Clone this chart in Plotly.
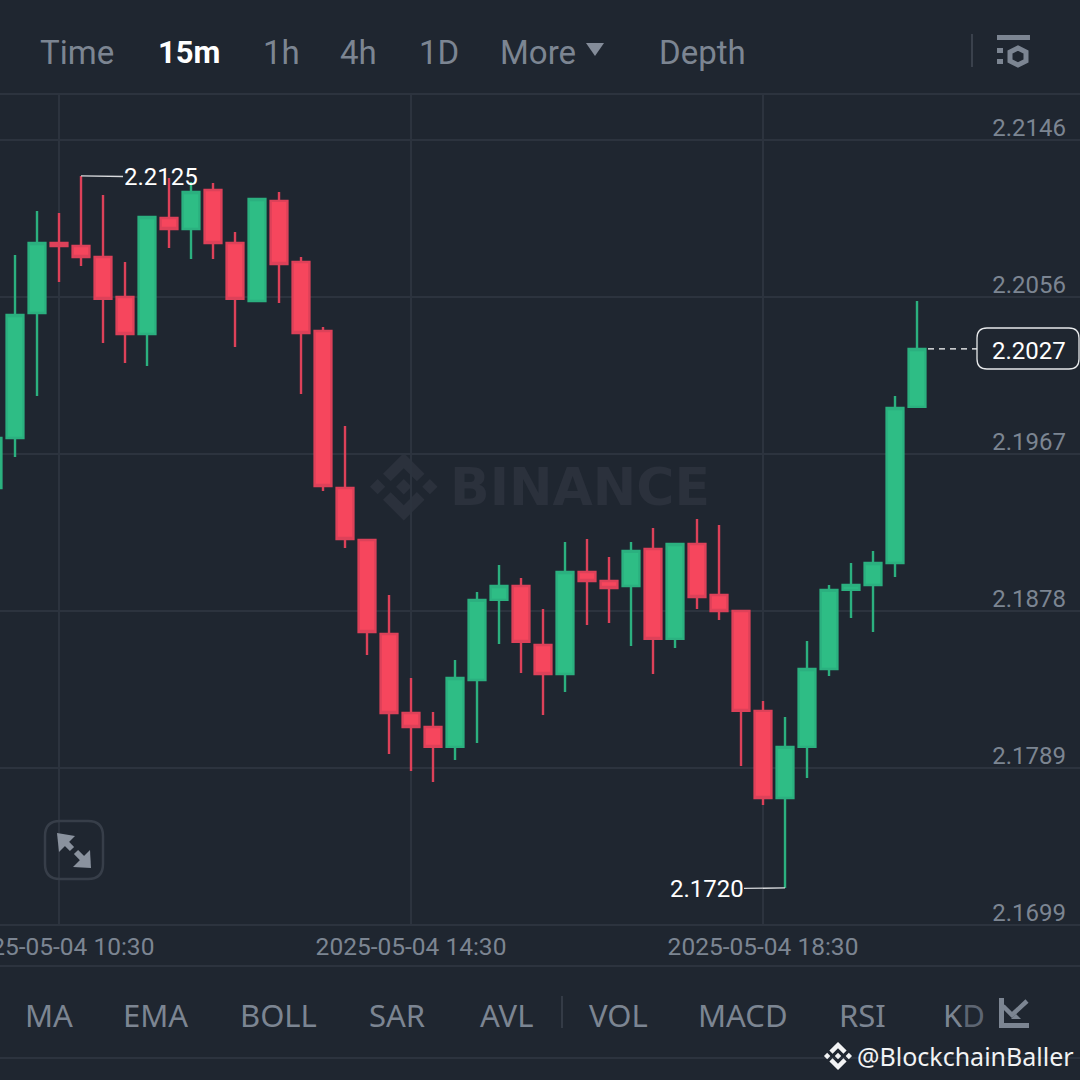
import plotly.graph_objects as go

BG = "#1f2630"
GRID = "#2c333e"
MUTED = "#7c8592"
GREEN_BODY, GREEN_LINE = "#2ebd85", "#2bb07f"
RED_BODY, RED_LINE = "#f6465d", "#dd4159"

times = ["09:45","10:00","10:15","10:30","10:45","11:00","11:15","11:30","11:45","12:00","12:15",
         "12:30","12:45","13:00","13:15","13:30","13:45","14:00","14:15","14:30","14:45","15:00",
         "15:15","15:30","15:45","16:00","16:15","16:30","16:45","17:00","17:15","17:30","17:45",
         "18:00","18:15","18:30","18:45","19:00","19:15","19:30","19:45","20:00","20:15"]
opens = [2.19478,2.19763,2.20475,2.20873,2.20856,2.20794,2.20566,2.20355,2.21016,2.20953,2.21175,
         2.20873,2.20543,2.21113,2.20765,2.20372,2.19478,2.19182,2.18647,2.18197,2.18117,2.18004,
         2.18385,2.18841,2.18920,2.18584,2.18419,2.19000,2.18949,2.18920,2.19131,2.18619,2.19159,
         2.18869,2.18778,2.18209,2.17713,2.18004,2.18448,2.18898,2.18926,2.19051,2.19940]
highs = [2.19763,2.20805,2.21056,2.21044,2.21255,2.21147,2.20765,2.21021,2.21243,2.21221,2.21215,
         2.20936,2.21124,2.21164,2.20794,2.20395,2.19831,2.19188,2.18869,2.18396,2.18203,2.18499,
         2.18886,2.19040,2.18966,2.18789,2.19171,2.19188,2.19085,2.19171,2.19251,2.19159,2.19302,
         2.19268,2.18778,2.18266,2.18174,2.18607,2.18926,2.19051,2.19120,2.20002,2.20543]
lows = [2.19478,2.19655,2.20002,2.20651,2.20742,2.20304,2.20190,2.20173,2.20845,2.20782,2.20782,
        2.20281,2.20543,2.20532,2.20014,2.19461,2.19137,2.18527,2.17964,2.17867,2.17804,2.17930,
        2.18026,2.18590,2.18425,2.18186,2.18317,2.18698,2.18710,2.18579,2.18419,2.18567,2.18789,
        2.18727,2.17895,2.17673,2.17201,2.17827,2.18408,2.18738,2.18658,2.18972,2.19940]
closes = [2.19763,2.20463,2.20873,2.20856,2.20794,2.20555,2.20355,2.21021,2.20953,2.21164,2.20873,
          2.20555,2.21124,2.20754,2.20361,2.19490,2.19188,2.18658,2.18197,2.18117,2.18004,2.18396,
          2.18841,2.18920,2.18602,2.18419,2.19000,2.18949,2.18909,2.19120,2.18619,2.19159,2.18858,
          2.18778,2.18209,2.17713,2.18004,2.18448,2.18898,2.18926,2.19051,2.19934,2.20270]

price_ticks = [2.2146, 2.20566, 2.19672, 2.18778, 2.17884, 2.1699]
price_labels = ["2.2146", "2.2056", "2.1967", "2.1878", "2.1789", "2.1699"]
time_ticks = ["10:30", "14:30", "18:30"]
period_labels = ["Time", "15m", "1h", "4h", "1D", "More", "Depth"]
indicator_labels = ["MA", "EMA", "BOLL", "SAR", "AVL", "VOL", "MACD", "RSI",
                    "K<span style='color:#5d6572'>D</span>"]
high_label, low_label, last_label = "2.2125", "2.1720", "2.2027"
high_value, low_value, last_value = 2.21255, 2.17201, 2.2027
high_time, low_time = "10:45", "18:45"
DAY = "2025-05-04 "


def px(x):
    return x / 1080


def py(y):
    return 1 - y / 1080


def path(points, close=True):
    s = "M" + " L".join(f"{px(x):.5f},{py(y):.5f}" for x, y in points)
    return s + (" Z" if close else "")


def round_rect(x0, y0, x1, y1, r):
    c = lambda x, y: f"{px(x):.5f},{py(y):.5f}"
    return (f"M{c(x0+r,y0)} L{c(x1-r,y0)} Q{c(x1,y0)} {c(x1,y0+r)} L{c(x1,y1-r)} Q{c(x1,y1)} {c(x1-r,y1)} "
            f"L{c(x0+r,y1)} Q{c(x0,y1)} {c(x0,y1-r)} L{c(x0,y0+r)} Q{c(x0,y0)} {c(x0+r,y0)} Z")


LOGO = [
    [(38.73,53.2),(63.32,28.62),(87.92,53.22),(102.22,38.91),(63.32,0),(24.43,38.89)],
    [(0,63.31),(14.3,49),(28.61,63.31),(14.3,77.61)],
    [(38.73,73.41),(63.32,98),(87.92,73.4),(102.23,87.69),(63.33,126.6),(24.42,87.72)],
    [(98.01,63.31),(112.31,49),(126.62,63.31),(112.31,77.61)],
    [(77.83,63.3),(63.32,48.78),(48.81,63.3),(63.32,77.8)],
]


def logo_path(x0, y0, size):
    k = size / 126.62
    return " ".join(path([(x0 + a * k, y0 + b * k) for a, b in poly]) for poly in LOGO)


def fill_shape(d, color, layer="above"):
    return dict(type="path", xref="paper", yref="paper", path=d, fillcolor=color,
                line=dict(width=0), layer=layer)


def stroke_shape(d, color, width, fill="rgba(0,0,0,0)", layer="above"):
    return dict(type="path", xref="paper", yref="paper", path=d, fillcolor=fill,
                line=dict(color=color, width=width), layer=layer)


def hline(y, x0=0, x1=1080, color=GRID, width=2):
    return dict(type="line", xref="paper", yref="paper", x0=px(x0), x1=px(x1), y0=py(y), y1=py(y),
                line=dict(color=color, width=width), layer="below")


def label(text, x, y, size, color=MUTED, family="Roboto", anchor="left", weight=None):
    font = dict(size=size, color=color, family=family)
    if weight:
        font["weight"] = weight
    return dict(text=text, x=px(x), y=py(y), xref="paper", yref="paper", xanchor=anchor,
                yanchor="middle", showarrow=False, font=font, borderpad=0)


fig = go.Figure(go.Candlestick(
    x=[DAY + t for t in times], open=opens, high=highs, low=lows, close=closes,
    increasing=dict(fillcolor=GREEN_BODY, line=dict(color=GREEN_LINE, width=2.4)),
    decreasing=dict(fillcolor=RED_BODY, line=dict(color=RED_LINE, width=2.4)),
    whiskerwidth=0, hoverinfo="skip", showlegend=False,
))

shapes = [
    hline(94), hline(925), hline(966), hline(1058),
    dict(type="line", xref="paper", yref="paper", x0=px(972), x1=px(972), y0=py(34), y1=py(67),
         line=dict(color="#3a414c", width=2), layer="below"),
    dict(type="line", xref="paper", yref="paper", x0=px(562), x1=px(562), y0=py(996), y1=py(1028),
         line=dict(color="#343b46", width=2), layer="below"),
    fill_shape(logo_path(370, 453, 67.5), "#2b313c", layer="below"),
    # "More" caret
    fill_shape(path([(586, 43), (604, 43), (595, 56)]), "#848c99"),
    # settings icon
    fill_shape(path([(997, 35), (1030, 35), (1030, 40), (997, 40)]), MUTED),
    fill_shape(path([(997, 48), (1003, 48), (1003, 53), (997, 53)]), MUTED),
    fill_shape(path([(997, 59), (1003, 59), (1003, 64), (997, 64)]), MUTED),
    stroke_shape(path([(1018, 48), (1026, 52), (1026, 61), (1018, 65), (1010, 61), (1010, 52)]), MUTED, 5),
    # expand button
    stroke_shape(round_rect(45, 821, 103, 879, 15), "#373e49", 2.5),
    fill_shape(path([(57, 833), (75, 836), (59, 852)]), "#8a929e"),
    fill_shape(path([(91, 868), (73, 867), (90, 850)]), "#8a929e"),
    stroke_shape(path([(64, 841), (72, 849)], close=False), "#8a929e", 6),
    stroke_shape(path([(76, 852), (84, 860)], close=False), "#8a929e", 6),
    # indicators icon
    fill_shape(path([(999, 998), (1004, 998), (1004, 1023), (1029, 1023), (1029, 1028), (999, 1028)]), MUTED),
    stroke_shape(path([(1003, 1006), (1012, 1015), (1027, 1001)], close=False), MUTED, 4.5),
    fill_shape(path([(1011, 1019), (1016, 1014), (1021, 1019)]), MUTED),
    # last-price tag and its dashed leader
    dict(type="line", xref="paper", yref="y", x0=px(928), x1=px(977), y0=last_value, y1=last_value,
         line=dict(color="#ffffff", width=1.2, dash="6px,5px")),
    stroke_shape(round_rect(977, 328, 1079, 369, 10), "#e6e8ea", 1.3, fill=BG),
    # bottom-right mark
    fill_shape(logo_path(824, 1042, 28), "#f2f3f4"),
]

period_x = [39, 157, 262, 339, 418, 499, 658]
indicator_x = [24, 122, 239, 368, 479, 588, 697, 838, 942]
annotations = [
    label(t, x, 53, 31 if t == "15m" else 33, color="#ffffff" if t == "15m" else MUTED,
          weight=700 if t == "15m" else None)
    for t, x in zip(period_labels, period_x)
]
annotations += [label(t, x, 1015, 31, family="Noto Sans") for t, x in zip(indicator_labels, indicator_x)]
annotations += [
    label("BINANCE", 449, 487, 52, color="#2b313c", family="DejaVu Sans", weight=700),
    label("@BlockchainBaller", 856, 1056, 25, color="#f2f3f4", family="Noto Sans"),
    label(last_label, 1029, 351, 24, color="#ffffff", anchor="center"),
    dict(text=high_label, x=DAY + high_time, y=high_value, xref="x", yref="y", showarrow=True, ax=79.5, ay=1,
         axref="pixel", ayref="pixel", arrowhead=0, arrowwidth=1.3, arrowcolor="#d8dadd", standoff=0,
         font=dict(size=24, color="#ffffff", family="Roboto"), borderpad=0),
    dict(text=low_label, x=DAY + low_time, y=low_value, xref="x", yref="y", showarrow=True, ax=-78.5, ay=1,
         axref="pixel", ayref="pixel", arrowhead=0, arrowwidth=1.3, arrowcolor="#d8dadd", standoff=0,
         font=dict(size=24, color="#ffffff", family="Roboto"), borderpad=0),
]

fig.update_layout(
    width=1080, height=1080, margin=dict(l=0, r=0, t=0, b=0, pad=0), autosize=False,
    paper_bgcolor=BG, plot_bgcolor=BG, showlegend=False, boxgap=0.235, boxgroupgap=0,
    shapes=shapes, annotations=annotations, hovermode=False,
    xaxis=dict(
        type="date", range=[DAY + "09:49:46", DAY + "22:06:08"], rangeslider=dict(visible=False),
        tickmode="array", tickvals=[DAY + t for t in time_ticks], tickformat="%Y-%m-%d %H:%M",
        showgrid=True, gridcolor=GRID, gridwidth=1.6, zeroline=False, showline=False, automargin=False,
        ticks="outside", ticklen=0, tickcolor="rgba(0,0,0,0)", ticklabeloverflow="allow",
        tickfont=dict(size=24.5, color=MUTED, family="Roboto"), anchor="y",
    ),
    yaxis=dict(
        domain=[1 - 925 / 1080, 1 - 95 / 1080], range=[2.1699, 2.21716], side="right", automargin=False,
        tickmode="array", tickvals=price_ticks, ticktext=price_labels,
        ticklabelposition="inside top", ticklabeloverflow="allow", ticks="inside", ticklen=14,
        ticklabelstandoff=11, ticklabelshift=5,
        tickcolor="rgba(0,0,0,0)", showgrid=True, gridcolor=GRID, gridwidth=2, zeroline=False, showline=False,
        tickfont=dict(size=24, color=MUTED, family="Roboto"), anchor="x",
    ),
)

fig.write_html("out.html", config={"displayModeBar": False},
               post_script="document.body.style.margin='0';document.documentElement.style.overflow='hidden';")
